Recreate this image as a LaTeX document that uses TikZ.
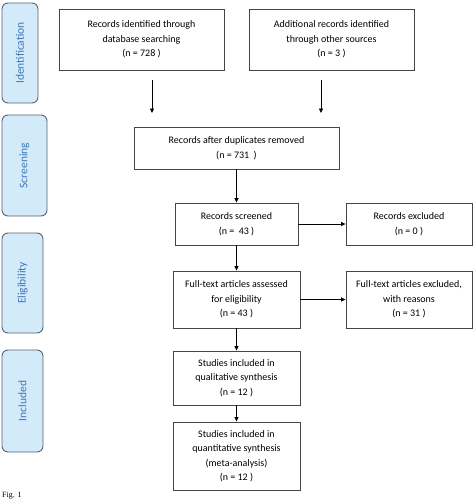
\documentclass[tikz,border=0pt]{standalone}
\usepackage{fontspec}
\setmainfont{Carlito}
\newfontfamily\figfont{Liberation Serif}
\usetikzlibrary{arrows.meta,positioning,calc}
\definecolor{sidefill}{HTML}{D2EAFA}
\definecolor{sidedraw}{HTML}{5A6470}
\definecolor{sidetext}{HTML}{3F78B8}
\definecolor{boxdraw}{HTML}{444444}
\tikzset{
  box/.style={draw=boxdraw, line width=0.9pt, fill=white, align=center, inner sep=0pt,
    font=\fontsize{10}{14.5}\selectfont},
  sidebox/.style={draw=sidedraw, line width=0.9pt, fill=sidefill, rounded corners=6pt,
    inner sep=0pt},
  sidelabel/.style={rotate=90, text=sidetext, font=\fontsize{11.5}{13}\selectfont, inner sep=0pt},
  flow/.style={draw=black, line width=0.7pt, -{Triangle[length=4.5pt,width=4pt]}}
}
\begin{document}
\begin{tikzpicture}[x=1pt,y=-1pt]
\useasboundingbox (0,0) rectangle (474,504);
\fill[white] (0,0) rectangle (474,504);

% side phase boxes
\node[sidebox, minimum width=36pt, minimum height=100pt] (s1) at (20,53) {};
\node[sidelabel] (l1) at (s1.center) {Identification};
\node[sidebox, minimum width=45pt, minimum height=101pt] (s2) at (24.5,165.5) {};
\node[sidelabel] (l2) at (s2.center) {Screening};
\node[sidebox, minimum width=41pt, minimum height=100pt] (s3) at (22.5,283) {};
\node[sidelabel] (l3) at (s3.center) {Eligibility};
\node[sidebox, minimum width=41pt, minimum height=102pt] (s4) at (22.5,401) {};
\node[sidelabel] (l4) at (s4.center) {Included};

% main boxes
\node[box, minimum width=165pt, minimum height=61pt] (b1) at (141.5,39.5)
  {Records identified through\\database searching\\(n = 728 )};
\node[box, minimum width=165pt, minimum height=61pt] (b2) at (331.5,39.5)
  {Additional records identified\\through other sources\\(n = 3 )};
\node[box, minimum width=205pt, minimum height=42pt] (b3) at (236.5,148)
  {Records after duplicates removed\\(n = 731~~)};
\node[box, minimum width=123pt, minimum height=42pt] (b4) at (236.5,224)
  {Records screened\\(n =~~43 )};
\node[box, minimum width=126pt, minimum height=42pt] (b5) at (409,224)
  {Records excluded\\(n = 0 )};
\node[box, minimum width=127pt, minimum height=57pt] (b6) at (236.5,299.5)
  {Full-text articles assessed\\for eligibility\\(n = 43 )};
\node[box, minimum width=126pt, minimum height=57pt] (b7) at (409,299.5)
  {Full-text articles excluded,\\with reasons\\(n = 31 )};
\node[box, minimum width=127pt, minimum height=54pt] (b8) at (236.5,378)
  {Studies included in\\qualitative synthesis\\(n = 12 )};
\node[box, minimum width=127pt, minimum height=68pt] (b9) at (236.5,456)
  {Studies included in\\quantitative synthesis\\(meta-analysis)\\(n = 12 )};

% free arrows from the top boxes
\coordinate (a1s) at (152,80);
\coordinate (a1e) at (152,113);
\coordinate (a2s) at (321,80);
\coordinate (a2e) at (321,113);
\draw[flow] (a1s) -- (a1e);
\draw[flow] (a2s) -- (a2e);

% connectors
\draw[flow] (b3.south) -- (b4.north);
\draw[flow] (b4.east) -- (b5.west);
\draw[flow] (b4.south) -- (b6.north);
\draw[flow] (b6.east) -- (b7.west);
\draw[flow] (b6.south) -- (b8.north);
\draw[flow] (b8.south) -- (b9.north);

\node[anchor=west, inner sep=0pt, font=\figfont\fontsize{8}{9}\selectfont] (fig) at (2,496) {Fig. 1};
\end{tikzpicture}
\end{document}
